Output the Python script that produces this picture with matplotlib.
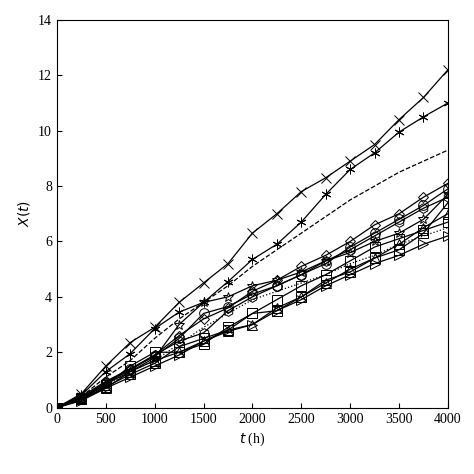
import matplotlib
matplotlib.use('Agg')
import matplotlib.pyplot as plt

plt.rcParams['font.family'] = 'Liberation Serif'

t = [0, 250, 500, 750, 1000, 1250, 1500, 1750, 2000, 2250, 2500, 2750, 3000, 3250, 3500, 3750, 4000]

x_cross = [0, 0.5, 1.5, 2.35, 2.9, 3.8, 4.5, 5.2, 6.3, 7.0, 7.8, 8.3, 8.9, 9.5, 10.4, 11.2, 12.2]
x_aster = [0, 0.45, 1.3, 1.95, 2.85, 3.45, 3.8, 4.55, 5.35, 5.9, 6.7, 7.7, 8.6, 9.2, 9.95, 10.5, 11.0]
x_dash = [0, 0.4, 1.1, 1.7, 2.5, 3.2, 3.8, 4.4, 5.1, 5.7, 6.3, 6.9, 7.5, 8.0, 8.5, 8.9, 9.3]
x_diam = [0, 0.4, 0.95, 1.4, 1.9, 2.6, 3.2, 3.6, 4.2, 4.6, 5.1, 5.5, 6.0, 6.6, 7.0, 7.6, 8.1]
x_circ = [0, 0.35, 0.9, 1.4, 1.85, 2.5, 3.4, 3.65, 4.1, 4.4, 4.8, 5.2, 5.8, 6.3, 6.8, 7.3, 7.9]
x_star = [0, 0.3, 0.85, 1.3, 1.8, 3.0, 3.8, 4.0, 4.4, 4.6, 4.9, 5.3, 5.6, 6.0, 6.3, 6.8, 7.7]
x_hex = [0, 0.35, 0.9, 1.35, 1.9, 2.4, 2.7, 3.5, 4.0, 4.4, 4.8, 5.3, 5.7, 6.2, 6.7, 7.2, 7.6]
x_sq1 = [0, 0.35, 0.8, 1.5, 2.0, 2.0, 2.3, 2.9, 3.4, 3.5, 4.0, 4.6, 4.9, 5.4, 5.7, 6.3, 7.4]
x_tri = [0, 0.3, 0.7, 1.3, 1.7, 2.0, 2.4, 2.75, 3.0, 3.6, 4.0, 4.5, 5.0, 5.4, 5.9, 6.5, 7.0]
x_sq2 = [0, 0.3, 0.75, 1.2, 1.6, 2.2, 2.5, 2.8, 3.4, 3.9, 4.4, 4.8, 5.3, 5.8, 6.1, 6.4, 6.7]
x_dot = [0, 0.3, 0.8, 1.3, 1.7, 2.3, 2.9, 3.4, 3.9, 4.2, 4.5, 4.8, 5.2, 5.5, 5.9, 6.2, 6.5]
x_trir = [0, 0.25, 0.7, 1.1, 1.5, 1.9, 2.4, 2.8, 3.0, 3.5, 3.9, 4.4, 4.8, 5.2, 5.5, 5.9, 6.2]

series = [
    (x_cross, '-', 'x'), (x_aster, '-', (6, 2, 0)), (x_dash, '--', None),
    (x_diam, '-', 'D'), (x_circ, '-', 'o'), (x_star, '-', '*'), (x_hex, '-', 'h'),
    (x_sq1, '-', 's'), (x_tri, '-', '^'), (x_sq2, '-', 's'), (x_dot, ':', None),
    (x_trir, '-', '>'),
]

fig, ax = plt.subplots(figsize=(4.74, 4.74), dpi=100)
for y, ls, mk in series:
    ms = 5 if mk == 'D' else 7
    ax.plot(t, y, color='black', linestyle=ls, linewidth=0.9, marker=mk,
            markersize=ms, markerfacecolor='none', markeredgecolor='black', markeredgewidth=0.7)

ax.set_xlim(0, 4000)
ax.set_ylim(0, 14)
ax.set_xticks(range(0, 4001, 500))
ax.set_yticks(range(0, 15, 2))
ax.set_xlabel('$t$ (h)', fontsize=10)
ax.set_ylabel('$X(t)$', fontsize=10)
ax.tick_params(labelsize=10, direction='in')
fig.subplots_adjust(left=0.12, right=0.945, top=0.958, bottom=0.14)
fig.savefig('out.png', dpi=100)
plt.close(fig)
